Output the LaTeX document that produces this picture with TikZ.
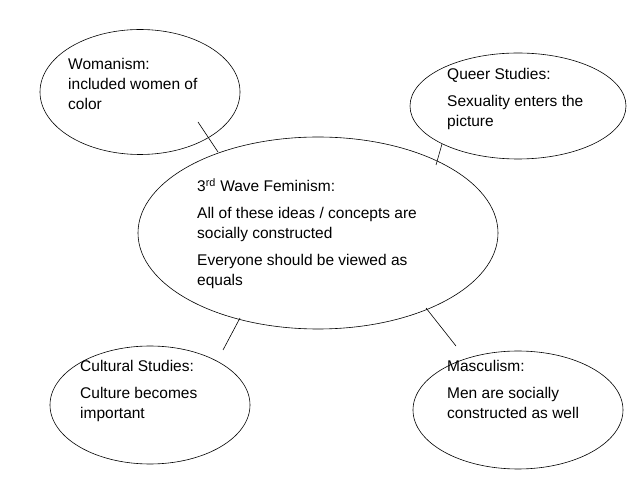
\documentclass[tikz,border=0pt]{standalone}
\usepackage{fontspec}
\setmainfont{Liberation Sans}
\usetikzlibrary{shapes.geometric}
\begin{document}
\begin{tikzpicture}[x=1pt,y=-1pt,
  bub/.style={draw,ellipse,line width=0.6pt},
  txt/.style={anchor=north west,align=left,font=\fontsize{15.5}{20}\selectfont,inner sep=0pt},
  con/.style={line width=0.6pt}]
\useasboundingbox (0,0) rectangle (638,478);
\node[bub,minimum width=200pt,minimum height=125pt] (w) at (140,92) {};
\node[bub,minimum width=216pt,minimum height=106pt] (q) at (518,106) {};
\node[bub,minimum width=360pt,minimum height=192pt] (c) at (318,233) {};
\node[bub,minimum width=200pt,minimum height=118pt] (cs) at (150,405) {};
\node[bub,minimum width=210pt,minimum height=118pt] (m) at (518,410) {};
\node[txt] (tw) at (68,58) {Womanism:\\included women of\\color};
\node[txt] (tq) at (447,68) {Queer Studies:\\[7pt]Sexuality enters the\\picture};
\node[txt] (tc) at (197,178) {3\textsuperscript{rd} Wave Feminism:\\[7pt]All of these ideas / concepts are\\socially constructed\\[7pt]Everyone should be viewed as\\equals};
\node[txt] (tcs) at (80,360) {Cultural Studies:\\[7pt]Culture becomes\\important};
\node[txt] (tm) at (447,360) {Masculism:\\[7pt]Men are socially\\constructed as well};
\coordinate (a1) at (198,122); \coordinate (a2) at (218,152);
\coordinate (b1) at (442,144); \coordinate (b2) at (436,165);
\coordinate (c1) at (240,318); \coordinate (c2) at (223,350);
\coordinate (d1) at (426,308); \coordinate (d2) at (456,346);
\draw[con] (a1) -- (a2);
\draw[con] (b1) -- (b2);
\draw[con] (c1) -- (c2);
\draw[con] (d1) -- (d2);
\end{tikzpicture}
\end{document}
